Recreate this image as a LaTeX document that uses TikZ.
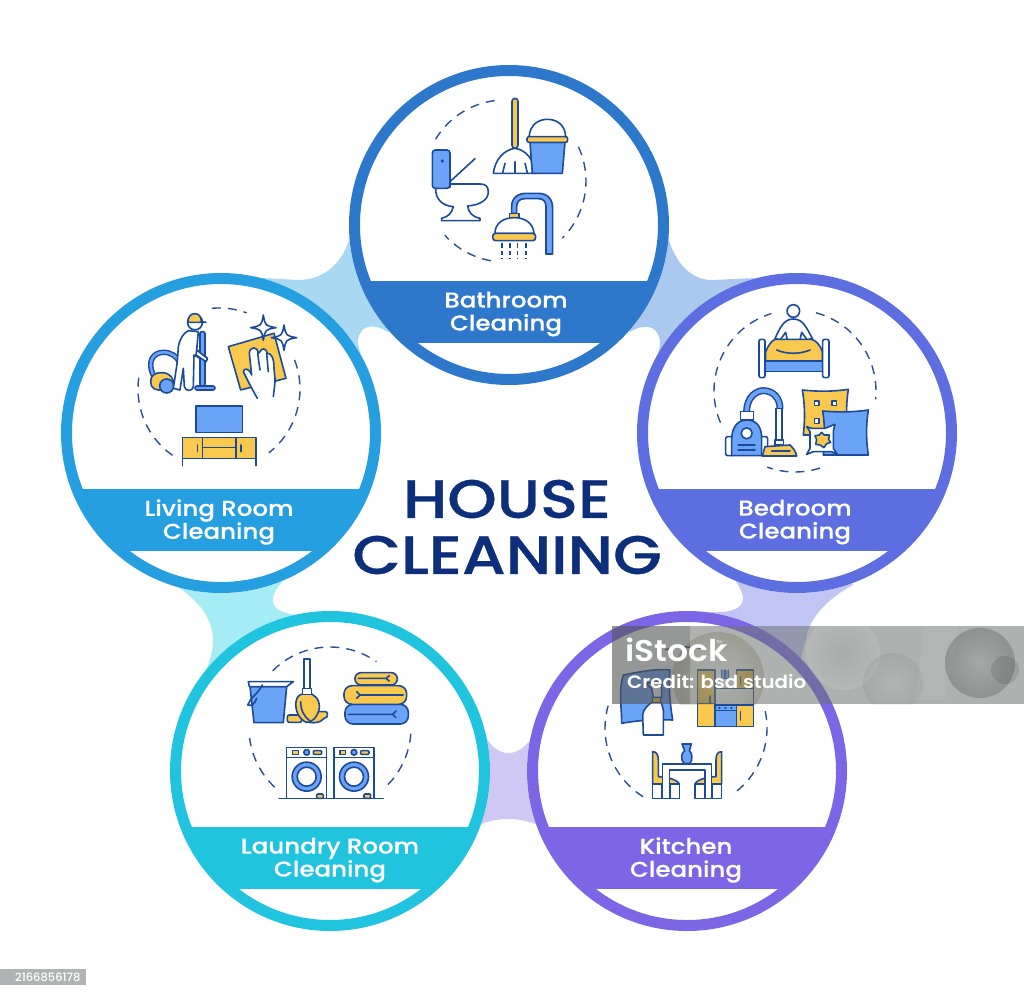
\documentclass[tikz,border=0pt]{standalone}
\usepackage{fontspec}
\setmainfont{Poppins}
\newfontfamily\popm{Poppins Medium}[FakeStretch=1.14,FakeBold=0.25]
\newfontfamily\popt{Poppins Medium}[FakeStretch=1.165,FakeBold=0.6]
\newfontfamily\popb{Poppins SemiBold}[FakeStretch=1.1]
\newfontfamily\popi{Poppins Medium}
\definecolor{rtop}{HTML}{2E78CC}
\definecolor{rleft}{HTML}{259FE0}
\definecolor{rright}{HTML}{5D6FE0}
\definecolor{rbl}{HTML}{20C4DF}
\definecolor{rbr}{HTML}{7C66E6}
\definecolor{ctl}{HTML}{A8D8F2}
\definecolor{ctr}{HTML}{ABC9EE}
\definecolor{crb}{HTML}{C0C5F3}
\definecolor{cbb}{HTML}{CFC7F4}
\definecolor{cbl}{HTML}{A6ECF4}
\definecolor{titlec}{HTML}{0B2F7A}
\definecolor{icl}{HTML}{1B4A9A}
\definecolor{icbc}{HTML}{6BA3F7}
\definecolor{icyc}{HTML}{F9C84E}
\definecolor{dashcol}{HTML}{2C4F8F}
\definecolor{idgray}{HTML}{B0B3B3}
\definecolor{wmgray}{HTML}{6F7272}
\tikzset{
  ic/.style={draw=icl,line width=1.6pt,line join=round,line cap=round},
  icb/.style={ic,fill=icbc},
  icy/.style={ic,fill=icyc},
  icw/.style={ic,fill=white},
  dashc/.style={draw=dashcol,line width=1.4pt,dash pattern=on 9pt off 7pt},
  lab/.style={text=white,font=\popm\fontsize{21.5pt}{23pt}\selectfont,align=center,inner sep=0pt},
  ztop/.style={shift={(400,80)},x=.3333pt,y=-.3333pt},
  zleft/.style={shift={(120,290)},x=.3333pt,y=-.3333pt},
  zright/.style={shift={(700,295)},x=.3333pt,y=-.3333pt},
  zbl/.style={shift={(230,635)},x=.3333pt,y=-.3333pt},
  zbr/.style={shift={(590,620)},x=.3333pt,y=-.3333pt},
}
\newcommand{\dasharc}[5]{\draw[dashc] plot[domain=#4:#5,samples=30] ({#1+#3*cos(\x)},{#2+#3*sin(\x)});}
\newcommand{\spark}[3]{\draw[icw] ({#1},{#2-#3}) .. controls ({#1+.15*#3},{#2-.15*#3}) .. ({#1+#3},{#2}) .. controls ({#1+.15*#3},{#2+.15*#3}) .. ({#1},{#2+#3}) .. controls ({#1-.15*#3},{#2+.15*#3}) .. ({#1-#3},{#2}) .. controls ({#1-.15*#3},{#2-.15*#3}) .. cycle;}
\newcommand{\cardring}[3]{%
  \fill[white] (#1,#2) circle (160pt);
  \begin{scope}
    \clip (#1,#2) circle (155pt);
    \fill[#3] ({#1-170},{#2+56}) rectangle ({#1+170},{#2+118});
  \end{scope}
  \draw[#3,line width=11pt] (#1,#2) circle (154.5pt);
}
\newcommand{\washer}[1]{%
  \begin{scope}[xshift=#1*.3333pt]
    \draw[icw] (170,490) -- (170,337) -- (290,337) -- (290,490);
    \draw[ic] (170,368) -- (290,368);
    \draw[icy] (188,346) rectangle (205,358);
    \draw[icb] (230,352) circle (2.8pt);
    \draw[icy,rounded corners=1pt] (250,347) rectangle (275,358);
    \draw[icb] (230,425) circle (14.5pt);
    \draw[icw] (230,425) circle (9.5pt);
    \draw[icy,rounded corners=1pt] (260,490) -- (260,477) -- (280,477) -- (280,490) -- cycle;
  \end{scope}}
\begin{document}
\begin{tikzpicture}[x=1pt,y=-1pt]
\useasboundingbox[fill=white] (0,0) rectangle (1024,998);
% connecting bands
\fill[ctl] (262,278) -- (298,280) .. controls (325,280) and (343,262) .. (350,237) -- (420,280) -- (388,332) .. controls (378,325) and (360,322) .. (358,340) .. controls (358,350) and (363,360) .. (369,370) -- (300,380) -- cycle;
\fill[ctr] (756,278) -- (712,280) .. controls (690,280) and (675,262) .. (668,237) -- (600,280) -- (630,332) .. controls (640,325) and (658,322) .. (660,342) .. controls (660,352) and (655,360) .. (650,370) -- (720,380) -- cycle;
\fill[crb] (733,577) .. controls (742,590) and (745,598) .. (742,603) .. controls (738,611) and (725,613) .. (708,612) -- (720,650) -- (800,660) -- (806,640) .. controls (808,620) and (825,600) .. (853,585) -- (800,540) -- cycle;
\fill[cbb] (484,735) .. controls (492,748) and (500,753) .. (508,753) .. controls (517,753) and (525,748) .. (534,735) -- (545,780) -- (538,825) .. controls (525,820) and (517,819) .. (508,819) .. controls (500,819) and (490,820) .. (479,825) -- (470,780) -- cycle;
\fill[cbl] (175,585) .. controls (205,605) and (225,630) .. (205,672) -- (240,680) -- (310,617) .. controls (290,615) and (272,612) .. (273,600) .. controls (273,592) and (277,588) .. (282,582) -- (220,560) -- cycle;
% cards
\cardring{509}{225}{rtop}
\cardring{221}{433}{rleft}
\cardring{797}{433}{rright}
\cardring{330}{771}{rbl}
\cardring{687}{771}{rbr}
\node[lab] (lbtop) at (506,314) {Bathroom\\Cleaning};
\node[lab] (lbleft) at (219,522) {Living Room\\Cleaning};
\node[lab] (lbright) at (795,522) {Bedroom\\Cleaning};
\node[lab] (lbbl) at (330,860) {Laundry Room\\Cleaning};
\node[lab] (lbbr) at (686,860) {Kitchen\\Cleaning};
\node[text=titlec,font=\popt\fontsize{54pt}{56pt}\selectfont,align=center,inner sep=0pt] (title) at (507,527) {HOUSE\\CLEANING};
% ---------- bathroom icon
\begin{scope}[ztop]
\dasharc{315}{303}{243}{211}{265}
\dasharc{315}{303}{243}{-25}{45}
\dasharc{315}{303}{243}{100}{138}
% toilet
\draw[ic] (150,305) -- (225,236);
\draw[icw] (107,322) .. controls (105,360) and (130,378) .. (160,380) .. controls (155,400) and (145,410) .. (125,415) -- (125,422) -- (240,422) -- (240,415) .. controls (215,410) and (205,395) .. (203,378) .. controls (240,375) and (265,360) .. (265,335) .. controls (265,318) and (255,312) .. (240,312) -- (150,312) -- (150,322) -- cycle;
\draw[icb,rounded corners=3pt] (97,210) rectangle (150,325);
\fill[icl] (127,243) circle (1.8pt);
% broom
\draw[icy,rounded corners=3pt] (336,55) rectangle (354,205);
\draw[icw] (280,280) .. controls (285,240) and (310,210) .. (345,205) .. controls (380,210) and (400,240) .. (408,280) -- cycle;
\draw[ic] (315,250) -- (308,278) (345,245) -- (345,278) (375,250) -- (382,278);
% bucket
\draw[icw] (387,172) .. controls (390,130) and (420,118) .. (442,118) .. controls (470,118) and (497,135) .. (497,172) -- cycle;
\draw[icb] (390,187) -- (397,280) -- (487,280) -- (495,187) -- cycle;
\draw[icy,rounded corners=2pt] (381,170) rectangle (503,187);
% shower
\draw[icb] (335,400) -- (335,380) .. controls (335,352) and (355,340) .. (380,340) -- (415,340) .. controls (445,340) and (458,360) .. (458,385) -- (458,522) -- (438,522) -- (438,380) .. controls (438,365) and (430,356) .. (415,356) -- (375,356) .. controls (358,356) and (350,366) .. (350,380) -- (350,400) -- cycle;
\draw[icy] (328,400) rectangle (357,413);
\draw[icw] (285,460) .. controls (285,430) and (310,413) .. (343,413) .. controls (375,413) and (400,430) .. (402,460) -- cycle;
\draw[icy,rounded corners=3pt] (278,460) rectangle (407,482);
\draw[draw=icl,line width=1.5pt,dash pattern=on 4.5pt off 3pt] (306,490) -- (306,537) (330,490) -- (330,537) (353,490) -- (353,537) (378,490) -- (378,537);
\end{scope}
% ---------- living room icon
\begin{scope}[zleft]
\dasharc{297}{297}{243}{265}{290}
\dasharc{297}{297}{243}{-21}{52}
\dasharc{297}{297}{243}{125}{188}
% vacuum
\draw[draw=icl,line width=5.5pt,line cap=round] (100,255) .. controls (80,215) and (100,187) .. (130,187) .. controls (155,187) and (170,200) .. (178,215);
\draw[draw=icbc,line width=2.6pt,line cap=round] (100,255) .. controls (80,215) and (100,187) .. (130,187) .. controls (155,187) and (170,200) .. (178,215);
\draw[icy] (92,275) .. controls (90,255) and (110,247) .. (125,248) .. controls (150,248) and (165,265) .. (160,290) -- (130,300) .. controls (105,302) and (92,295) .. (92,275) -- cycle;
\draw[icb] (140,288) circle (7pt);
% worker
\draw[icw] (205,122) -- (235,125) -- (230,180) -- (262,205) -- (258,215) -- (222,195) -- (220,290) .. controls (218,305) and (196,305) .. (193,290) -- (190,235) -- (180,300) -- (160,295) -- (172,215) -- (175,170) .. controls (180,145) and (190,130) .. (205,122) -- cycle;
\draw[icb,rounded corners=2pt] (240,125) rectangle (255,288);
\draw[icw] (230,180) -- (262,205) -- (258,215) -- (228,195) -- cycle;
\draw[icb,rounded corners=2pt] (225,288) rectangle (285,300);
\draw[icw] (225,97) circle (7.5pt);
\draw[icy] (204,97) .. controls (204,78) and (214,71) .. (225,71) .. controls (236,71) and (244,80) .. (244,95) -- (258,97) -- (204,97) -- cycle;
% cloth
\draw[icy] (325,170) -- (462,130) -- (498,265) -- (362,300) -- cycle;
\draw[icw] (412,325) -- (390,285) -- (370,245) .. controls (372,232) and (388,235) .. (395,255) -- (388,190) .. controls (390,168) and (412,168) .. (415,190) -- (420,185) .. controls (425,172) and (440,175) .. (442,190) .. controls (455,190) and (462,205) .. (462,235) -- (465,265) .. controls (466,280) and (462,300) .. (460,320);
\draw[ic] (413,190) -- (420,240) (440,190) -- (445,245);
\spark{430}{113}{38}
\spark{492}{143}{38}
% TV
\draw[icb] (228,348) rectangle (368,428);
\draw[icy] (187,443) rectangle (408,505);
\draw[ic] (248,443) -- (248,505) (348,443) -- (348,505) (248,473) -- (348,473) (233,465) -- (233,485) (363,465) -- (363,485) (187,505) -- (187,527) (408,505) -- (408,527);
\end{scope}
% ---------- bedroom icon
\begin{scope}[zright]
\dasharc{285}{288}{243}{157}{253}
\dasharc{285}{288}{243}{-75}{6}
\dasharc{285}{288}{243}{72}{110}
% person and bed
\draw[icw] (280,48) circle (6.3pt);
\draw[icw] (225,130) .. controls (240,100) and (250,72) .. (280,72) .. controls (310,72) and (320,100) .. (337,130) -- (322,135) -- (305,112) -- (300,135) -- (262,135) -- (257,112) -- (240,135) -- cycle;
\draw[icb] (197,198) rectangle (367,230);
\draw[icy] (197,198) -- (197,170) .. controls (205,150) and (215,138) .. (225,133) -- (335,133) .. controls (350,138) and (360,150) .. (367,170) -- (367,198) -- cycle;
\draw[ic] (230,165) .. controls (260,178) and (300,178) .. (330,165);
\draw[icw,rounded corners=2pt] (177,133) rectangle (195,248);
\draw[icw,rounded corners=2pt] (368,133) rectangle (387,248);
% vacuum
\draw[draw=icl,line width=7pt,line cap=round] (140,350) .. controls (140,305) and (170,287) .. (190,287) .. controls (222,287) and (240,312) .. (240,340);
\draw[draw=icbc,line width=4pt,line cap=round] (140,350) .. controls (140,305) and (170,287) .. (190,287) .. controls (222,287) and (240,312) .. (240,340);
\draw[icw] (228,340) rectangle (246,435);
\draw[icw,rounded corners=2pt] (77,425) rectangle (100,482);
\draw[icw,rounded corners=2pt] (180,425) rectangle (203,482);
\draw[icw] (122,350) rectangle (160,375);
\draw[icb] (95,482) -- (95,430) .. controls (97,390) and (118,375) .. (140,375) .. controls (165,375) and (185,390) .. (185,430) -- (185,482) -- cycle;
\draw[icw] (140,415) circle (5.5pt);
\draw[ic] (115,450) -- (165,450) (115,465) -- (165,465);
\draw[icw] (225,435) rectangle (250,450);
\draw[icy] (187,483) -- (195,455) -- (270,450) .. controls (280,460) and (288,470) .. (290,483) -- cycle;
\draw[ic] (215,468) -- (270,468);
% pillows
\draw[icy] (307,285) .. controls (350,290) and (400,290) .. (445,283) .. controls (438,330) and (438,375) .. (445,420) -- (310,420) .. controls (315,375) and (315,330) .. (307,285) -- cycle;
\draw[ic,fill=white] (343,318) rectangle (357,332);
\draw[ic,fill=white] (396,318) rectangle (410,332);
\draw[ic,fill=white] (343,371) rectangle (357,385);
\draw[icb] (368,348) .. controls (410,352) and (460,352) .. (505,345) .. controls (498,390) and (498,435) .. (505,480) -- (370,480) .. controls (375,435) and (375,390) .. (368,348) -- cycle;
\draw[icw] (320,395) -- (335,400) -- (375,400) -- (405,388) -- (400,408) -- (400,460) -- (412,478) -- (395,470) -- (340,470) -- (320,478) -- (330,460) -- (330,410) -- cycle;
\draw[icy] (365,412) -- (373,420) -- (388,420) -- (386,433) -- (392,442) -- (380,446) -- (372,458) -- (360,450) -- (347,448) -- (350,434) -- (345,422) -- (358,420) -- cycle;
\end{scope}
% ---------- laundry icon
\begin{scope}[zbl]
\dasharc{300}{279}{243}{225}{305}
\dasharc{300}{279}{243}{4}{45}
\dasharc{300}{279}{243}{133}{173}
% bucket
\draw[icb] (60,155) -- (72,263) -- (160,263) -- (170,155) -- cycle;
\draw[icw] (55,140) -- (190,140) -- (170,155) -- (58,155) -- cycle;
\draw[ic] (97,150) .. controls (80,180) and (60,190) .. (53,210) .. controls (65,215) and (75,205) .. (80,190);
% mop
\draw[icw] (222,72) rectangle (240,165);
\draw[icy,rounded corners=2pt] (172,240) rectangle (215,262);
\draw[icy,rounded corners=2pt] (235,230) -- (292,230) -- (292,248) -- (280,248) .. controls (275,260) and (255,265) .. (235,262) -- cycle;
\draw[icy] (198,200) .. controls (200,180) and (215,175) .. (232,175) .. controls (255,175) and (270,195) .. (268,220) .. controls (262,245) and (250,262) .. (228,262) .. controls (205,250) and (195,225) .. (198,200) -- cycle;
\draw[ic] (212,200) .. controls (212,225) and (222,245) .. (240,258);
\draw[icw] (218,160) rectangle (244,178);
% towels
\draw[icb,rounded corners=8pt] (345,208) rectangle (535,267);
\draw[icy,rounded corners=8pt] (342,152) rectangle (530,208);
\draw[icy,rounded corners=6pt] (375,113) rectangle (502,150);
\draw[ic] (355,238) -- (490,238) (498,228) -- (488,238) -- (498,248);
\draw[ic] (392,180) -- (520,180) (380,170) -- (390,180) -- (380,190);
\draw[ic] (385,130) -- (468,130) (478,122) -- (468,130) -- (478,138);
% washers
\washer{0}
\washer{142}
\draw[ic] (147,490) -- (460,490);
\end{scope}
% ---------- kitchen icon
\begin{scope}[zbr]
\dasharc{288}{324}{243}{255}{298}
\dasharc{288}{324}{243}{-12}{53}
\dasharc{288}{324}{243}{122}{196}
% cloth and bottle
\draw[icb] (100,165) .. controls (150,155) and (200,145) .. (240,150) .. controls (235,200) and (240,250) .. (248,300) .. controls (200,298) and (150,300) .. (95,310) .. controls (95,260) and (85,210) .. (100,165) -- cycle;
\draw[icw] (160,345) -- (158,285) .. controls (160,265) and (175,255) .. (188,245) -- (212,245) .. controls (218,260) and (222,270) .. (220,285) -- (220,345) -- cycle;
\draw[icy] (188,232) rectangle (212,247);
\draw[icw] (170,190) -- (215,185) -- (215,232) -- (190,232) -- (185,205) -- cycle;
% kitchen units
\draw[icy] (322,150) rectangle (375,320);
\draw[ic] (322,250) -- (375,250) (360,228) -- (360,250);
\draw[icy] (440,150) rectangle (490,205);
\draw[ic] (451,170) -- (451,192);
\draw[icb] (395,150) -- (395,175) -- (415,175) -- (415,150);
\draw[ic] (405,150) -- (405,175);
\draw[icw] (375,205) rectangle (490,255);
\draw[icb] (375,255) rectangle (440,320);
\draw[ic] (375,272) -- (440,272);
\fill[icl] (388,264) circle (1.2pt) (406,264) circle (1.2pt) (424,264) circle (1.2pt);
\draw[icy] (440,255) rectangle (490,320);
\draw[ic] (451,275) -- (451,300);
% table
\draw[icb] (276,372) -- (304,372) -- (298,392) .. controls (308,400) and (308,420) .. (300,430) -- (282,430) .. controls (272,420) and (272,400) .. (284,392) -- cycle;
\draw[icy] (188,395) .. controls (200,395) and (205,405) .. (205,420) -- (205,470) .. controls (225,470) and (262,478) .. (268,492) -- (188,492) -- cycle;
\draw[icy] (395,395) .. controls (383,395) and (378,405) .. (378,420) -- (378,470) .. controls (358,470) and (320,478) .. (315,492) -- (395,492) -- cycle;
\draw[ic] (188,492) -- (188,535) -- (215,535) -- (215,492) (268,492) -- (268,535) -- (240,535) -- (240,492);
\draw[ic] (395,492) -- (395,535) -- (368,535) -- (368,492) (315,492) -- (315,535) -- (345,535) -- (345,492);
\draw[icw] (218,535) -- (218,432) -- (365,432) -- (365,535) -- (345,535) -- (345,450) -- (238,450) -- (238,535) -- cycle;
\end{scope}
% ---------- stock overlay
\fill[wmgray,fill opacity=.55] (612,626) rectangle (1024,704);
\begin{scope}
\clip (612,626) rectangle (1024,704);
\fill[black,fill opacity=.14] (612,626) rectangle (690,704);
\shade[inner color=white!65!black,outer color=black!55!olive,fill opacity=.16] (718,678) circle (46pt);
\shade[inner color=gray,outer color=white,fill opacity=.10] (843,653) circle (37pt);
\shade[inner color=white,outer color=black,fill opacity=.05] (893,683) circle (30pt);
\fill[white,fill opacity=.06] (925,620) -- (960,620) -- (945,700) -- (915,700) -- cycle;
\shade[inner color=white!50!black,outer color=black,fill opacity=.18] (980,663) circle (35pt);
\fill[black,fill opacity=.10] (1005,670) circle (14pt);
\end{scope}
\node[text=white,font=\popb\fontsize{30pt}{31pt}\selectfont,anchor=west,inner sep=0pt] (wmark) at (625,650) {iStock};
\node[text=white,font=\fontsize{4pt}{4pt}\selectfont,anchor=west,inner sep=0pt] (wmtm) at (716,642) {TM};
\node[text=white,font=\popb\fontsize{18pt}{18pt}\selectfont,anchor=west,inner sep=0pt] (wcredit) at (627,682) {Credit: bsd studio};
\fill[idgray] (0,969) rectangle (86,985);
\node[text=white,font=\popi\fontsize{11.5pt}{12pt}\selectfont,anchor=west,inner sep=0pt] (imgid) at (15,977) {2166856178};
\end{tikzpicture}
\end{document}
